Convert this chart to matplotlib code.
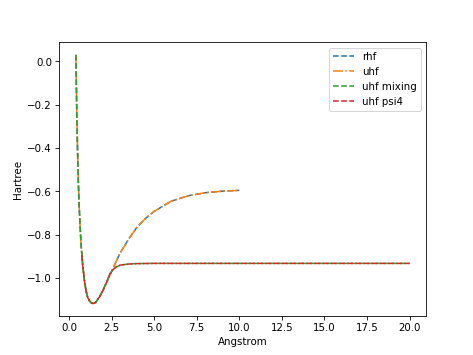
import matplotlib
matplotlib.use("Agg")
import matplotlib.pyplot as plt

# bond lengths
r_short = [0.4, 0.45, 0.5, 0.55, 0.6, 0.7, 0.8, 0.9, 1.0, 1.1, 1.2, 1.3, 1.4, 1.5, 1.6,
           1.8, 2.0, 2.2, 2.4, 2.6, 2.8, 3.0, 3.5, 4.0, 4.5, 5.0, 6.0, 7.0, 8.0, 9.0, 10.0]
e_rhf = [0.03, -0.22, -0.42, -0.57, -0.68, -0.84, -0.94, -1.01, -1.06, -1.09, -1.105, -1.114,
         -1.117, -1.115, -1.108, -1.085, -1.055, -1.02, -0.985, -0.952, -0.917, -0.884,
         -0.820, -0.764, -0.724, -0.692, -0.645, -0.620, -0.606, -0.599, -0.595]
e_uhf = list(e_rhf)

r_mix = [0.4, 0.45, 0.5, 0.55, 0.6, 0.7, 0.8, 0.9, 1.0, 1.1, 1.2, 1.3, 1.4, 1.5, 1.6,
         1.8, 2.0, 2.2, 2.4, 2.6, 2.8, 3.0, 3.5, 4.0, 5.0, 6.0, 8.0, 10.0, 12.0, 14.0,
         16.0, 18.0, 20.0]
e_mix = [0.03, -0.22, -0.42, -0.57, -0.68, -0.84, -0.94, -1.01, -1.06, -1.09, -1.105, -1.114,
         -1.117, -1.115, -1.108, -1.085, -1.055, -1.02, -0.980, -0.959, -0.947, -0.940,
         -0.935, -0.933, -0.932, -0.932, -0.932, -0.932, -0.932, -0.932, -0.932, -0.932,
         -0.932]

r_psi4 = [0.75, 0.8, 0.9, 1.0, 1.1, 1.2, 1.3, 1.4, 1.5, 1.6,
          1.8, 2.0, 2.2, 2.4, 2.6, 2.8, 3.0, 3.5, 4.0, 5.0, 6.0, 8.0, 10.0, 12.0, 14.0,
          16.0, 18.0, 20.0]
e_psi4 = [-0.895, -0.94, -1.01, -1.06, -1.09, -1.105, -1.114,
          -1.117, -1.115, -1.108, -1.085, -1.055, -1.02, -0.980, -0.959, -0.947, -0.940,
          -0.935, -0.933, -0.932, -0.932, -0.932, -0.932, -0.932, -0.932, -0.932, -0.932,
          -0.932]

fig, ax = plt.subplots(figsize=(6.4, 4.8), dpi=74)
ax.plot(r_short, e_rhf, '--', color='C0', label='rhf')
ax.plot(r_short, e_uhf, '-.', color='C1', label='uhf')
ax.plot(r_mix, e_mix, '--', color='C2', label='uhf mixing')
ax.plot(r_psi4, e_psi4, '--', color='C3', label='uhf psi4')
ax.set_xlabel('Angstrom')
ax.set_ylabel('Hartree')
ax.legend(loc='upper right')
fig.savefig('out.png', dpi=74)
